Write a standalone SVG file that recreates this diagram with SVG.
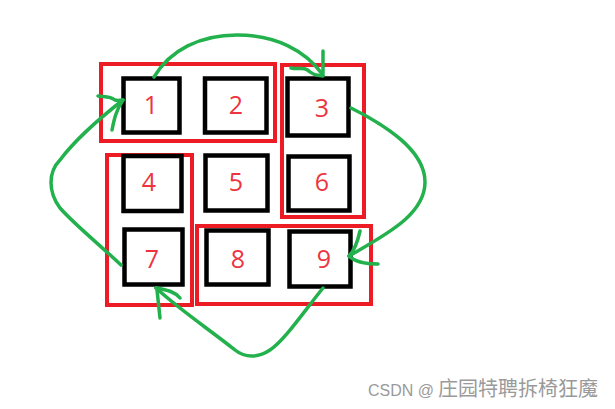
<svg xmlns="http://www.w3.org/2000/svg" width="615" height="409" viewBox="0 0 615 409">
<style>
.box{fill:#fff;stroke:#000;stroke-width:4.5}
.grp{fill:none;stroke:#ed1c24;stroke-width:4}
.num{font-family:"Open Sans","Noto Sans","Liberation Sans",sans-serif;font-size:25px;fill:#ed3440;text-anchor:middle}
.c{fill:none;stroke:#22b14c;stroke-width:3.5;stroke-linecap:round;stroke-linejoin:round}
.wm{font-family:"Liberation Sans","Noto Sans CJK SC",sans-serif;font-size:16px;fill:#9a9a9a}
</style>
<rect width="615" height="409" fill="#fff"/>
<g id="groups">
<rect id="g12" class="grp" x="101" y="64" width="174" height="77"/>
<rect id="g36" class="grp" x="282" y="65" width="82" height="152"/>
<rect id="g47" class="grp" x="107" y="155" width="85" height="150"/>
<rect id="g89" class="grp" x="197" y="226" width="174" height="78"/>
</g>
<g id="n1"><rect class="box" x="123.5" y="78.5" width="56" height="54"/><text class="num" x="151" y="114">1</text></g>
<g id="n2"><rect class="box" x="205" y="78.5" width="61.5" height="54"/><text class="num" x="236" y="114">2</text></g>
<g id="n3"><rect class="box" x="287.5" y="78.5" width="61" height="57"/><text class="num" x="322" y="117">3</text></g>
<g id="n4"><rect class="box" x="123.5" y="156" width="58" height="55"/><text class="num" x="149" y="191">4</text></g>
<g id="n5"><rect class="box" x="205.5" y="155.5" width="62" height="55"/><text class="num" x="236" y="191">5</text></g>
<g id="n6"><rect class="box" x="288.5" y="156.5" width="61" height="54"/><text class="num" x="322" y="191">6</text></g>
<g id="n7"><rect class="box" x="124.5" y="229.5" width="58" height="55"/><text class="num" x="152" y="268">7</text></g>
<g id="n8"><rect class="box" x="206.5" y="230.5" width="62" height="54"/><text class="num" x="238" y="268">8</text></g>
<g id="n9"><rect class="box" x="289.5" y="231.5" width="61" height="55"/><text class="num" x="324" y="268">9</text></g>
<g id="connectors">
<path class="c" d="M154,77 C170,50 200,35 237,35 C275,35 305,50 323,75"/>
<path class="c" d="M323,51 L323,73 M291,68 C299,70 304,66 310,72 C315,76 318,75 323,76"/>
<path class="c" d="M351,108 C385,125 425,150 425,182 C425,215 385,235 349,256"/>
<path class="c" d="M360,231 C358,240 355,250 349,256 M378,264 C368,264 355,262 349,256"/>
<path class="c" d="M323,288 C305,310 285,340 270,350 C258,358 245,358 235,350 C210,330 180,310 156,288"/>
<path class="c" d="M160,318 L157,290 M180,298 C175,292 168,290 156,288"/>
<path class="c" d="M121,265 C100,245 75,225 60,208 C48,192 48,172 60,160 C75,140 100,118 123,100"/>
<path class="c" d="M98,96 C105,97 110,96 115,100 C118,101 120,100 123,100 M112,130 C114,120 116,110 123,100"/>
</g>
<text class="wm" x="368" y="396">CSDN @<tspan x="438" font-size="20">庄园特聘拆椅狂魔</tspan></text>
</svg>
